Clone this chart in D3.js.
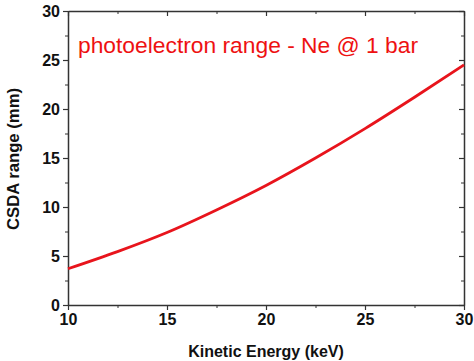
<!DOCTYPE html>
<html><head><meta charset="utf-8">
<script src="https://cdn.jsdelivr.net/npm/d3@7"></script>
<style>body{margin:0;background:#fff}svg{display:block}</style>
</head><body>
<script>
const energy = [10, 12.5, 15, 17.5, 20, 22.5, 25, 27.5, 30];
const range  = [3.7, 5.45, 7.4, 9.7, 12.2, 15.0, 18.0, 21.2, 24.5];
const xTicks = [10, 15, 20, 25, 30];
const yTicks = [0, 5, 10, 15, 20, 25, 30];
const xMinor = [12.5, 17.5, 22.5, 27.5];
const yMinor = [2.5, 7.5, 12.5, 17.5, 22.5, 27.5];
const title = "photoelectron range - Ne @ 1 bar";

const W = 474, H = 361;
const m = {l: 68, r: 10, t: 11, b: 56};
const svg = d3.select("body").append("svg").attr("width", W).attr("height", H);
const x = d3.scaleLinear().domain([10, 30]).range([m.l, W - m.r]);
const y = d3.scaleLinear().domain([0, 30]).range([H - m.b, m.t]);
const axCol = "#333";
const font = "'Liberation Sans', Arial, sans-serif";

function style(g){ g.select(".domain").attr("stroke", axCol).attr("stroke-width", 1.5);
  g.selectAll(".tick line").attr("stroke", axCol).attr("stroke-width", 1.2); }

// bottom
const gx = svg.append("g").attr("transform", `translate(0,${H - m.b})`)
  .call(d3.axisBottom(x).tickValues(xTicks).tickSize(5).tickSizeOuter(0).tickPadding(4));
style(gx);
gx.selectAll("text").attr("font-family", font).attr("font-weight", "bold").attr("font-size", 16).attr("fill", "#111");
svg.append("g").attr("transform", `translate(0,${H - m.b})`)
  .call(d3.axisBottom(x).tickValues(xMinor).tickSize(3).tickSizeOuter(0).tickFormat(""))
  .call(g => { g.select(".domain").remove(); g.selectAll("line").attr("stroke", axCol); });

// left
const gy = svg.append("g").attr("transform", `translate(${m.l},0)`)
  .call(d3.axisLeft(y).tickValues(yTicks).tickSize(5).tickSizeOuter(0).tickPadding(3));
style(gy);
gy.selectAll("text").attr("font-family", font).attr("font-weight", "bold").attr("font-size", 16).attr("fill", "#111");
svg.append("g").attr("transform", `translate(${m.l},0)`)
  .call(d3.axisLeft(y).tickValues(yMinor).tickSize(3).tickSizeOuter(0).tickFormat(""))
  .call(g => { g.select(".domain").remove(); g.selectAll("line").attr("stroke", axCol); });

// top (inward ticks)
const gt = svg.append("g").attr("transform", `translate(0,${m.t})`)
  .call(d3.axisBottom(x).tickValues(xTicks).tickSize(5).tickSizeOuter(0).tickFormat(""));
style(gt);
svg.append("g").attr("transform", `translate(0,${m.t})`)
  .call(d3.axisBottom(x).tickValues(xMinor).tickSize(3).tickSizeOuter(0).tickFormat(""))
  .call(g => { g.select(".domain").remove(); g.selectAll("line").attr("stroke", axCol); });

// right (inward ticks)
const gr = svg.append("g").attr("transform", `translate(${W - m.r},0)`)
  .call(d3.axisLeft(y).tickValues(yTicks).tickSize(5).tickSizeOuter(0).tickFormat(""));
style(gr);
svg.append("g").attr("transform", `translate(${W - m.r},0)`)
  .call(d3.axisLeft(y).tickValues(yMinor).tickSize(3).tickSizeOuter(0).tickFormat(""))
  .call(g => { g.select(".domain").remove(); g.selectAll("line").attr("stroke", axCol); });

// line
const data = energy.map((e, i) => [e, range[i]]);
svg.append("path").datum(data)
  .attr("fill", "none").attr("stroke", "#e8141c").attr("stroke-width", 2.8)
  .attr("d", d3.line().x(d => x(d[0])).y(d => y(d[1])).curve(d3.curveMonotoneX));

// title
svg.append("text").attr("x", 78).attr("y", 53)
  .attr("font-family", font).attr("font-size", 22).attr("fill", "#ee1111")
  .attr("textLength", 340).attr("lengthAdjust", "spacingAndGlyphs").text(title);

// axis titles
svg.append("text").attr("x", (m.l + W - m.r) / 2).attr("y", 357).attr("text-anchor", "middle")
  .attr("font-family", font).attr("font-weight", "bold").attr("font-size", 16).attr("fill", "#111")
  .text("Kinetic Energy (keV)");
svg.append("text").attr("transform", `translate(19,${159}) rotate(-90)`)
  .attr("text-anchor", "middle")
  .attr("font-family", font).attr("font-weight", "bold").attr("font-size", 16).attr("fill", "#111")
  .attr("textLength", 142).attr("lengthAdjust", "spacingAndGlyphs")
  .text("CSDA range (mm)");
</script>
</body></html>
